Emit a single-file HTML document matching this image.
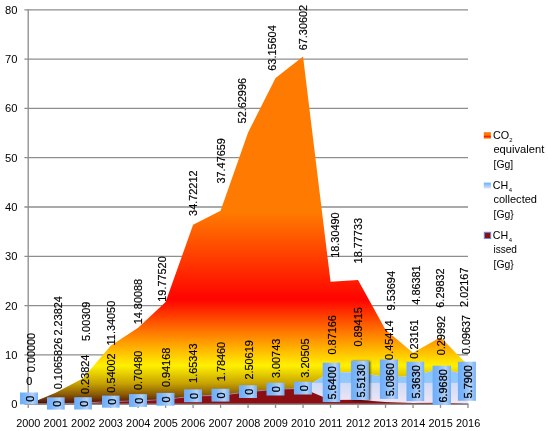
<!DOCTYPE html>
<html><head><meta charset="utf-8"><title>Landfill gas emissions chart</title>
<style>
html,body{margin:0;padding:0;background:#fff}
body{width:548px;height:431px;overflow:hidden}
svg{display:block}
text{font-family:"Liberation Sans",sans-serif;fill:#000}
.ax{font-size:10.9px}
.dl{font-size:10.9px;text-anchor:middle;stroke:#000;stroke-width:0.18px}
.bx{stroke-width:0.3px}
.lg{font-size:10.9px}
.sub{font-size:5.9px}
</style></head><body>
<svg width="548" height="431" viewBox="0 0 548 431">
<defs>
<linearGradient id="fire" gradientUnits="userSpaceOnUse" x1="0" y1="56" x2="0" y2="404">
<stop offset="0" stop-color="#ff7a00"/>
<stop offset="0.45" stop-color="#ff7a00"/>
<stop offset="0.70" stop-color="#ff0300"/>
<stop offset="0.89" stop-color="#fff100"/>
<stop offset="0.94" stop-color="#c8a402"/>
<stop offset="0.972" stop-color="#8c5c05"/>
<stop offset="1" stop-color="#4d0808"/>
</linearGradient>
<linearGradient id="day" gradientUnits="userSpaceOnUse" x1="0" y1="368" x2="0" y2="404">
<stop offset="0" stop-color="#8cc4fe"/>
<stop offset="0.40" stop-color="#92c8fd"/>
<stop offset="0.43" stop-color="#cfdbf6"/>
<stop offset="0.7" stop-color="#dfe0f5"/>
<stop offset="1" stop-color="#f3e7f4"/>
</linearGradient>
<linearGradient id="box" x1="0" y1="0" x2="1" y2="0">
<stop offset="0" stop-color="#6eadf9"/>
<stop offset="0.3" stop-color="#7cb6f9"/>
<stop offset="0.7" stop-color="#b2d2f9"/>
<stop offset="1" stop-color="#74b0f8"/>
</linearGradient>
<linearGradient id="lg1" x1="0" y1="0" x2="0" y2="1">
<stop offset="0" stop-color="#ff7a00"/><stop offset="0.45" stop-color="#ff7a00"/><stop offset="0.62" stop-color="#ff1800"/><stop offset="0.74" stop-color="#ff2000"/><stop offset="0.86" stop-color="#ff9000"/><stop offset="1" stop-color="#dcb428"/>
</linearGradient>
<linearGradient id="lg2" x1="0" y1="0" x2="0" y2="1">
<stop offset="0" stop-color="#6cb0fe"/><stop offset="0.5" stop-color="#9ccafb"/><stop offset="1" stop-color="#ece2f5"/>
</linearGradient>
<filter id="sh" x="-20%" y="-10%" width="150%" height="125%"><feGaussianBlur stdDeviation="0.9"/></filter>
</defs>
<rect width="548" height="431" fill="#fff"/>

<g stroke="#8e8e8e" stroke-width="1.33" fill="none">
<line x1="24.4" y1="404.20" x2="468" y2="404.20"/>
<line x1="24.4" y1="354.90" x2="468" y2="354.90"/>
<line x1="24.4" y1="305.60" x2="468" y2="305.60"/>
<line x1="24.4" y1="256.30" x2="468" y2="256.30"/>
<line x1="24.4" y1="207.00" x2="468" y2="207.00"/>
<line x1="24.4" y1="157.70" x2="468" y2="157.70"/>
<line x1="24.4" y1="108.40" x2="468" y2="108.40"/>
<line x1="24.4" y1="59.10" x2="468" y2="59.10"/>
<line x1="24.4" y1="9.80" x2="468" y2="9.80"/>
<line x1="28.2" y1="9.2" x2="28.2" y2="407.9"/>
</g>
<polygon fill="url(#fire)" points="28.15,404.20 55.64,392.64 83.13,378.36 110.62,345.63 138.11,327.76 165.60,302.07 193.09,224.87 220.58,210.64 248.07,132.38 275.56,78.01 303.05,56.58 330.54,281.85 358.03,280.04 385.52,329.87 413.01,352.64 440.50,337.32 467.99,365.21 467.99,375.18 440.50,368.37 413.01,376.62 385.52,376.89 358.03,372.61 330.54,372.10 303.05,388.40 275.56,389.37 248.07,391.84 220.58,395.40 193.09,396.05 165.60,399.56 138.11,400.73 110.62,401.54 83.13,403.03 55.64,403.67 28.15,404.20"/>
<polygon fill="url(#day)" points="28.15,404.20 55.64,403.67 83.13,403.03 110.62,401.54 138.11,400.73 165.60,399.56 193.09,396.05 220.58,395.40 248.07,391.84 275.56,389.37 303.05,388.40 330.54,372.10 358.03,372.61 385.52,376.89 413.01,376.62 440.50,368.37 467.99,375.18 467.99,403.72 440.50,402.72 413.01,403.06 385.52,401.96 358.03,399.79 330.54,399.90 303.05,388.40 275.56,389.37 248.07,391.84 220.58,395.40 193.09,396.05 165.60,399.56 138.11,400.73 110.62,401.54 83.13,403.03 55.64,403.67 28.15,404.20"/>
<polygon fill="#8b0e12" points="28.15,404.20 55.64,403.67 83.13,403.03 110.62,401.54 138.11,400.73 165.60,399.56 193.09,396.05 220.58,395.40 248.07,391.84 275.56,389.37 303.05,388.40 330.54,399.90 358.03,399.79 385.52,401.96 413.01,403.06 440.50,402.72 467.99,403.72 467.99,404.20 440.50,404.20 413.01,404.20 385.52,404.20 358.03,404.20 330.54,404.20 303.05,404.20 275.56,404.20 248.07,404.20 220.58,404.20 193.09,404.20 165.60,404.20 138.11,404.20 110.62,404.20 83.13,404.20 55.64,404.20 28.15,404.20"/>
<polyline fill="none" stroke="#9aa6e0" stroke-width="0.7" opacity="0.8" points="28.15,404.20 55.64,403.67 83.13,403.03 110.62,401.54 138.11,400.73 165.60,399.56 193.09,396.05 220.58,395.40 248.07,391.84 275.56,389.37 303.05,388.40"/>
<g stroke="#8e8e8e" stroke-width="1.33" fill="none">
<line x1="28" y1="404.10" x2="468.7" y2="404.10" stroke-width="1.4"/>
<line x1="55.64" y1="404.20" x2="55.64" y2="407.9"/>
<line x1="83.13" y1="404.20" x2="83.13" y2="407.9"/>
<line x1="110.62" y1="404.20" x2="110.62" y2="407.9"/>
<line x1="138.11" y1="404.20" x2="138.11" y2="407.9"/>
<line x1="165.60" y1="404.20" x2="165.60" y2="407.9"/>
<line x1="193.09" y1="404.20" x2="193.09" y2="407.9"/>
<line x1="220.58" y1="404.20" x2="220.58" y2="407.9"/>
<line x1="248.07" y1="404.20" x2="248.07" y2="407.9"/>
<line x1="275.56" y1="404.20" x2="275.56" y2="407.9"/>
<line x1="303.05" y1="404.20" x2="303.05" y2="407.9"/>
<line x1="330.54" y1="404.20" x2="330.54" y2="407.9"/>
<line x1="358.03" y1="404.20" x2="358.03" y2="407.9"/>
<line x1="385.52" y1="404.20" x2="385.52" y2="407.9"/>
<line x1="413.01" y1="404.20" x2="413.01" y2="407.9"/>
<line x1="440.50" y1="404.20" x2="440.50" y2="407.9"/>
<line x1="467.99" y1="404.20" x2="467.99" y2="407.9"/>
<line x1="462.6" y1="348" x2="462.6" y2="354.7" stroke-width="1" opacity="0.6"/>
</g>
<g class="ax" text-anchor="end" style="font-size:11.2px">
<text x="17.5" y="408.20">0</text>
<text x="17.5" y="358.90">10</text>
<text x="17.5" y="309.60">20</text>
<text x="17.5" y="260.30">30</text>
<text x="17.5" y="211.00">40</text>
<text x="17.5" y="161.70">50</text>
<text x="17.5" y="112.40">60</text>
<text x="17.5" y="63.10">70</text>
<text x="17.5" y="13.80">80</text>
</g>
<g class="ax" text-anchor="middle">
<text x="28.25" y="426.6">2000</text>
<text x="55.74" y="426.6">2001</text>
<text x="83.23" y="426.6">2002</text>
<text x="110.72" y="426.6">2003</text>
<text x="138.21" y="426.6">2004</text>
<text x="165.70" y="426.6">2005</text>
<text x="193.19" y="426.6">2006</text>
<text x="220.68" y="426.6">2007</text>
<text x="248.17" y="426.6">2008</text>
<text x="275.66" y="426.6">2009</text>
<text x="303.15" y="426.6">2010</text>
<text x="330.64" y="426.6">2011</text>
<text x="358.13" y="426.6">2012</text>
<text x="385.62" y="426.6">2013</text>
<text x="413.11" y="426.6">2014</text>
<text x="440.60" y="426.6">2015</text>
<text x="468.09" y="426.6">2016</text>
</g>
<g>
<rect x="352.5" y="361.2" width="17.7" height="39.3" fill="#000" opacity="0.7" filter="url(#sh)"/>
<rect x="20.0" y="392.5" width="18.0" height="11.9" fill="url(#box)"/>
<rect x="47.0" y="397.3" width="17.7" height="12.3" fill="url(#box)"/>
<rect x="74.2" y="397.2" width="17.7" height="12.3" fill="url(#box)"/>
<rect x="102.0" y="395.6" width="17.6" height="12.1" fill="url(#box)"/>
<rect x="129.0" y="394.1" width="18.0" height="12.8" fill="url(#box)"/>
<rect x="156.5" y="392.9" width="18.0" height="12.8" fill="url(#box)"/>
<rect x="184.0" y="389.4" width="18.0" height="12.8" fill="url(#box)"/>
<rect x="211.5" y="388.8" width="18.0" height="12.8" fill="url(#box)"/>
<rect x="239.0" y="385.2" width="18.0" height="12.8" fill="url(#box)"/>
<rect x="266.5" y="382.7" width="18.0" height="12.8" fill="url(#box)"/>
<rect x="293.9" y="381.7" width="18.0" height="12.8" fill="url(#box)"/>
<rect x="322.7" y="362.7" width="17.5" height="39.4" fill="url(#box)"/>
<rect x="351.2" y="360.7" width="17.7" height="39.3" fill="url(#box)"/>
<rect x="379.9" y="359.5" width="18.1" height="39.4" fill="url(#box)"/>
<rect x="406.5" y="361.7" width="17.7" height="39.4" fill="url(#box)"/>
<rect x="432.6" y="365.7" width="18.4" height="39.3" fill="url(#box)"/>
<rect x="457.9" y="361.7" width="18.0" height="39.1" fill="url(#box)"/>
</g>
<g class="dl">
<text class="bx" transform="translate(30.1 398.6) rotate(-90)" y="3.6">0</text>
<text class="bx" transform="translate(57.0 403.7) rotate(-90)" y="3.6">0</text>
<text class="bx" transform="translate(84.2 403.6) rotate(-90)" y="3.6">0</text>
<text class="bx" transform="translate(111.9 401.8) rotate(-90)" y="3.6">0</text>
<text class="bx" transform="translate(139.1 400.7) rotate(-90)" y="3.6">0</text>
<text class="bx" transform="translate(166.6 399.5) rotate(-90)" y="3.6">0</text>
<text class="bx" transform="translate(194.1 396.0) rotate(-90)" y="3.6">0</text>
<text class="bx" transform="translate(221.6 395.4) rotate(-90)" y="3.6">0</text>
<text class="bx" transform="translate(249.1 391.8) rotate(-90)" y="3.6">0</text>
<text class="bx" transform="translate(276.6 389.3) rotate(-90)" y="3.6">0</text>
<text class="bx" transform="translate(304.0 388.3) rotate(-90)" y="3.6">0</text>
<text class="bx" transform="translate(332.6 382.9) rotate(-90)" y="3.6">5.6400</text>
<text class="bx" transform="translate(361.1 380.9) rotate(-90)" y="3.6">5.5130</text>
<text class="bx" transform="translate(390.1 379.7) rotate(-90)" y="3.6">5.0860</text>
<text class="bx" transform="translate(416.5 381.9) rotate(-90)" y="3.6">5.3630</text>
<text class="bx" transform="translate(442.9 385.9) rotate(-90)" y="3.6">6.9680</text>
<text class="bx" transform="translate(468.0 381.8) rotate(-90)" y="3.6">5.7900</text>
<text x="29.3" y="384.8">0</text>
<text transform="translate(58.3 363.5) rotate(-90)" y="3.6">0.1065826</text>
<text transform="translate(85.5 374.3) rotate(-90)" y="3.6">0.23824</text>
<text transform="translate(111.6 373.0) rotate(-90)" y="3.6">0.54002</text>
<text transform="translate(138.6 370.4) rotate(-90)" y="3.6">0.70480</text>
<text transform="translate(166.3 367.4) rotate(-90)" y="3.6">0.94168</text>
<text transform="translate(193.5 363.2) rotate(-90)" y="3.6">1.65343</text>
<text transform="translate(221.5 361.5) rotate(-90)" y="3.6">1.78460</text>
<text transform="translate(249.3 359.9) rotate(-90)" y="3.6">2.50619</text>
<text transform="translate(276.5 358.4) rotate(-90)" y="3.6">3.00743</text>
<text transform="translate(304.9 358.0) rotate(-90)" y="3.6">3.20505</text>
<text transform="translate(331.9 334.8) rotate(-90)" y="3.6">0.87166</text>
<text transform="translate(358.4 326.9) rotate(-90)" y="3.6">0.89415</text>
<text transform="translate(389.7 340.2) rotate(-90)" y="3.6">0.45414</text>
<text transform="translate(414.3 339.0) rotate(-90)" y="3.6">0.23161</text>
<text transform="translate(441.7 335.6) rotate(-90)" y="3.6">0.29992</text>
<text transform="translate(466.0 334.5) rotate(-90)" y="3.6">0.09637</text>
<text transform="translate(31.4 352.5) rotate(-90)" y="3.6">0.00000</text>
<text transform="translate(58.4 315.8) rotate(-90)" y="3.6">2.23824</text>
<text transform="translate(86.0 321.3) rotate(-90)" y="3.6">5.00309</text>
<text transform="translate(111.4 323.1) rotate(-90)" y="3.6">11.34050</text>
<text transform="translate(138.1 301.6) rotate(-90)" y="3.6">14.80088</text>
<text transform="translate(162.1 279.0) rotate(-90)" y="3.6">19.77520</text>
<text transform="translate(193.5 193.2) rotate(-90)" y="3.6">34.72212</text>
<text transform="translate(221.5 160.8) rotate(-90)" y="3.6">37.47659</text>
<text transform="translate(242.4 100.7) rotate(-90)" y="3.6">52.62996</text>
<text transform="translate(272.8 48.0) rotate(-90)" y="3.6">63.15604</text>
<text transform="translate(303.8 27.6) rotate(-90)" y="3.6">67.30602</text>
<text transform="translate(335.7 235.1) rotate(-90)" y="3.6">18.30490</text>
<text transform="translate(358.8 240.7) rotate(-90)" y="3.6">18.77733</text>
<text transform="translate(391.2 290.7) rotate(-90)" y="3.6">9.53694</text>
<text transform="translate(416.3 285.0) rotate(-90)" y="3.6">4.86381</text>
<text transform="translate(440.7 288.0) rotate(-90)" y="3.6">6.29832</text>
<text transform="translate(464.1 287.2) rotate(-90)" y="3.6">2.02167</text>
</g>
<g class="lg">
<rect x="483.8" y="132.2" width="7.1" height="6.6" fill="url(#lg1)"/>
<text x="493.0" y="138.8" textLength="16.2" lengthAdjust="spacingAndGlyphs">CO</text>
<text class="sub" x="509.2" y="142.4">2</text>
<text x="493.4" y="153.3" textLength="50.9" lengthAdjust="spacingAndGlyphs">equivalent</text>
<text x="493.6" y="168.1" textLength="19.6" lengthAdjust="spacingAndGlyphs">[Gg]</text>
<rect x="483.8" y="182.6" width="7.1" height="6" fill="url(#lg2)"/>
<text x="492.8" y="189.3" textLength="15.4" lengthAdjust="spacingAndGlyphs">CH</text>
<text class="sub" x="508.7" y="192.0">4</text>
<text x="493.4" y="202.8" textLength="43.6" lengthAdjust="spacingAndGlyphs">collected</text>
<text x="493.6" y="217.8" textLength="20.2" lengthAdjust="spacingAndGlyphs">[Gg}</text>
<rect x="484.3" y="232.3" width="6.4" height="6.2" fill="#8b0e12" stroke="#7088d8" stroke-width="1"/>
<text x="492.8" y="238.5" textLength="15.4" lengthAdjust="spacingAndGlyphs">CH</text>
<text class="sub" x="508.7" y="241.8">4</text>
<text x="493.4" y="252.6" textLength="23.6" lengthAdjust="spacingAndGlyphs">issed</text>
<text x="493.6" y="267.7" textLength="20.2" lengthAdjust="spacingAndGlyphs">[Gg}</text>
</g>
</svg>
</body></html>
